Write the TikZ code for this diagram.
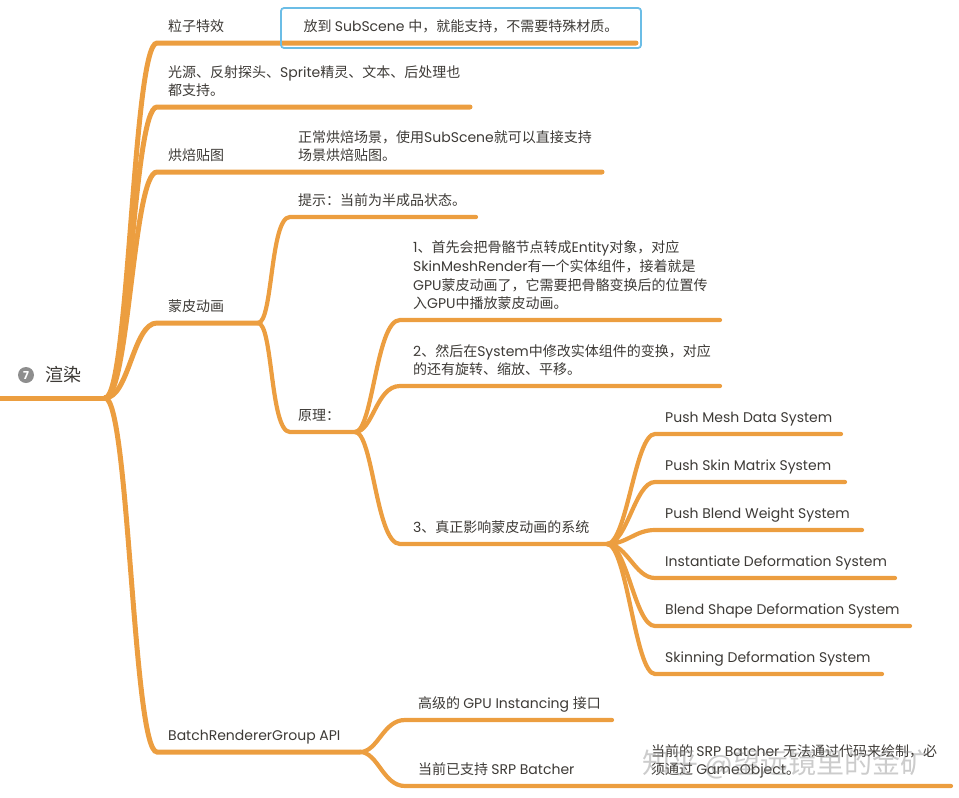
\documentclass[tikz,border=0pt]{standalone}
\usepackage{fontspec}
\setmainfont{Noto Sans CJK SC}
\newfontfamily\cjkfont{Noto Sans CJK SC}
\newfontfamily\latfont{Poppins}
\usetikzlibrary{calc}
\newcount\cjkcnt
\newXeTeXintercharclass\CJKcls
\def\setcjkrange#1#2{\cjkcnt=#1\relax\loop\XeTeXcharclass\cjkcnt=\CJKcls\advance\cjkcnt by 1\relax\ifnum\cjkcnt<#2\relax\repeat}
\setcjkrange{"3000}{"3040}
\setcjkrange{"4E00}{"A000}
\setcjkrange{"FF00}{"FFF0}
\XeTeXinterchartoks 0 \CJKcls = {\cjkfont}
\XeTeXinterchartoks 4095 \CJKcls = {\cjkfont}
\XeTeXinterchartoks \CJKcls 0 = {\latfont}
\XeTeXinterchartoks 4095 0 = {\latfont}
\XeTeXinterchartokenstate=1
\definecolor{lineor}{HTML}{EC9E40}
\definecolor{txt}{HTML}{3D3A36}
\definecolor{boxbl}{HTML}{6BBDE6}
\definecolor{numgray}{HTML}{8E8E8E}
\tikzset{
  branch/.style={draw=lineor, line width=4.2pt, line cap=round},
  mainbranch/.style={draw=lineor, line width=5pt, line cap=round},
  lbl/.style={anchor=south west, inner sep=0pt, text=txt, font=\fontsize{14}{18.7}\selectfont, text depth=4pt, align=left},
}
\newcommand\mmbranch[6][branch]{\draw[#1] (#2) .. controls ($(#2)+(#4,0)$) and ($(#3)+(-#5,0)$) .. (#3) -- (#6);}
\begin{document}
\begin{tikzpicture}[x=1pt,y=-1pt]
\useasboundingbox (0,0) rectangle (959,798);
% coordinates
\coordinate (rootL) at (0,398);
\coordinate (J1) at (105,398);
\coordinate (Sa) at (157,43);  \coordinate (Ea) at (636,43);
\coordinate (Sb) at (157,107); \coordinate (Eb) at (470,107);
\coordinate (Sc) at (157,172); \coordinate (Ec) at (602,172);
\coordinate (Sd) at (157,323); \coordinate (J2) at (258,323);
\coordinate (Se) at (157,752); \coordinate (J5) at (360,752);
\coordinate (Sd1) at (290,217); \coordinate (Ed1) at (476,217);
\coordinate (Sd2) at (290,432); \coordinate (J3) at (355,432);
\coordinate (Sp1) at (400,320); \coordinate (Ep1) at (720,320);
\coordinate (Sp2) at (400,386); \coordinate (Ep2) at (720,386);
\coordinate (Sp3) at (400,544); \coordinate (J4) at (607,544);
\coordinate (Ss1) at (655,434); \coordinate (Es1) at (841,434);
\coordinate (Ss2) at (655,482); \coordinate (Es2) at (845,482);
\coordinate (Ss3) at (655,530); \coordinate (Es3) at (862,530);
\coordinate (Ss4) at (655,578); \coordinate (Es4) at (895,578);
\coordinate (Ss5) at (655,626); \coordinate (Es5) at (910,626);
\coordinate (Ss6) at (655,674); \coordinate (Es6) at (882,674);
\coordinate (Se1) at (405,720); \coordinate (Ee1) at (612,720);
\coordinate (Se2) at (405,786); \coordinate (Ee2) at (951,786);
% connectors
\draw[mainbranch] (rootL) -- (J1);
\mmbranch[mainbranch]{J1}{Sa}{24}{24}{Ea}
\mmbranch[mainbranch]{J1}{Sb}{24}{24}{Eb}
\mmbranch[mainbranch]{J1}{Sc}{24}{24}{Ec}
\mmbranch[mainbranch]{J1}{Sd}{24}{24}{J2}
\mmbranch[mainbranch]{J1}{Se}{24}{24}{J5}
\mmbranch{J2}{Sd1}{15}{20}{Ed1}
\mmbranch{J2}{Sd2}{15}{20}{J3}
\mmbranch{J3}{Sp1}{18}{24}{Ep1}
\mmbranch{J3}{Sp2}{18}{24}{Ep2}
\mmbranch{J3}{Sp3}{18}{24}{J4}
\mmbranch{J4}{Ss1}{20}{20}{Es1}
\mmbranch{J4}{Ss2}{20}{20}{Es2}
\mmbranch{J4}{Ss3}{20}{20}{Es3}
\mmbranch{J4}{Ss4}{20}{20}{Es4}
\mmbranch{J4}{Ss5}{20}{20}{Es5}
\mmbranch{J4}{Ss6}{20}{20}{Es6}
\mmbranch{J5}{Se1}{18}{22}{Ee1}
\mmbranch{J5}{Se2}{18}{22}{Ee2}
% root
\node[circle, fill=numgray, inner sep=0pt, minimum size=16pt, text=white, font=\fontsize{11}{11}\selectfont\bfseries] (num) at (26,375) {7};
\node[anchor=west, inner sep=0pt, text=txt, font=\fontsize{18}{20}\selectfont] (root) at (45,375) {渲染};
% labels
\node[lbl] (ta) at (168,36) {粒子特效};
\node[lbl] (tb) at (168,100) {光源、反射探头、Sprite精灵、文本、后处理也\\都支持。};
\node[lbl] (tc) at (168,165) {烘焙贴图};
\node[lbl] (tc1) at (298,165) {正常烘焙场景，使用SubScene就可以直接支持\\场景烘焙贴图。};
\node[lbl] (td) at (168,316) {蒙皮动画};
\node[lbl] (td1) at (298,210) {提示：当前为半成品状态。};
\node[lbl] (td2) at (298,425) {原理：};
\node[lbl] (tp1) at (413,313) {1、首先会把骨骼节点转成Entity对象，对应\\SkinMeshRender有一个实体组件，接着就是\\GPU蒙皮动画了，它需要把骨骼变换后的位置传\\入GPU中播放蒙皮动画。};
\node[lbl] (tp2) at (413,379) {2、然后在System中修改实体组件的变换，对应\\的还有旋转、缩放、平移。};
\node[lbl] (tp3) at (413,537) {3、真正影响蒙皮动画的系统};
\node[lbl] (ts1) at (665,427) {Push Mesh Data System};
\node[lbl] (ts2) at (665,475) {Push Skin Matrix System};
\node[lbl] (ts3) at (665,523) {Push Blend Weight System};
\node[lbl] (ts4) at (665,571) {Instantiate Deformation System};
\node[lbl] (ts5) at (665,619) {Blend Shape Deformation System};
\node[lbl] (ts6) at (665,667) {Skinning Deformation System};
\node[lbl] (te) at (168,745) {BatchRendererGroup API};
\node[lbl] (te1) at (418,713) {高级的 GPU Instancing 接口};
\node[lbl] (te2) at (418,779) {当前已支持 SRP Batcher};
\node[lbl] (te21) at (651,779) {当前的 SRP Batcher 无法通过代码来绘制，必\\须通过 GameObject。};
% highlighted box
\node[draw=boxbl, line width=1.8pt, rounded corners=3pt, minimum width=360pt, minimum height=40pt, inner sep=0pt, text=txt, font=\fontsize{14}{18.7}\selectfont, text height=11pt, text depth=4pt] (box) at (461,28) {放到 SubScene 中，就能支持，不需要特殊材质。};
% watermark
\node[anchor=west, inner sep=0pt, text=gray, opacity=0.4, font=\fontsize{28}{30}\selectfont] (wm) at (642,764) {知乎 @望远镜里的金矿};
\end{tikzpicture}
\end{document}
